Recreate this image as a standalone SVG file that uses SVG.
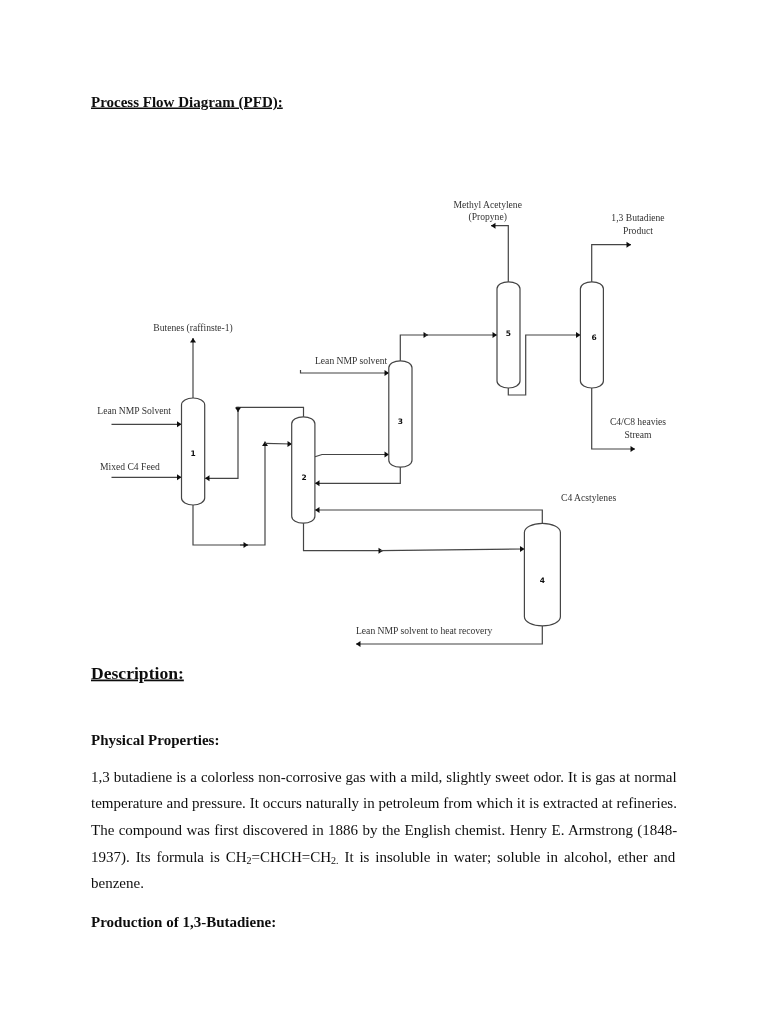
<svg xmlns="http://www.w3.org/2000/svg" width="768" height="1024" viewBox="0 0 768 1024">
<style>
text{font-family:"Liberation Serif","Times New Roman",serif;fill:#111}
.lbl{font-size:9.6px;fill:#333}
.mid{text-anchor:middle}
.num{font-family:"DejaVu Sans",sans-serif;font-size:7.500px;font-weight:bold;text-anchor:middle;fill:#111}
.v{fill:#fff;stroke:#444;stroke-width:1.2}
.c{fill:none;stroke:#444;stroke-width:1.2}
.a{marker-end:url(#arr)}
.body{font-size:15px}
.h{font-size:15px;font-weight:bold}
</style>
<defs>
<marker id="arr" markerUnits="userSpaceOnUse" markerWidth="7" markerHeight="7" refX="5" refY="3.500" orient="auto"><path d="M.5 .5L5 3.500L.5 6.500Z" fill="#111"/></marker>
<filter id="soft" x="0" y="0" width="100%" height="100%"><feGaussianBlur stdDeviation="0.5"/></filter>
</defs>
<rect width="768" height="1024" fill="#fff"/>
<g filter="url(#soft)">
<text id="title" class="h" x="91" y="106.500" text-decoration="underline">Process Flow Diagram (PFD):</text>
<g id="connectors">
<path class="c a" d="M193 398V338"/>
<path class="c a" d="M111.500 424.300H181.500"/>
<path class="c a" d="M111.500 477.300H181.500"/>
<path class="c a" d="M303.500 417V407.300H238V478.300H205"/>
<path class="c a" d="M236 407.300H238V412"/>
<path class="c a" d="M193 505V545H265V441.500"/>
<path class="c a" d="M265 443.300L292 444"/>
<path class="c a" d="M240 545H248"/>
<path class="c a" d="M303.500 523V550.700H383"/>
<path class="c a" d="M380 550.700L524.500 549"/>
<path class="c a" d="M315 456.700L322 454.500H389"/>
<path class="c a" d="M400.300 467V483.300H315"/>
<path class="c a" d="M542.300 523.500V510H315"/>
<path class="c a" d="M542.300 626V644H356"/>
<path class="c a" d="M300.500 370V373H389"/>
<path class="c a" d="M400.300 361V335H428"/>
<path class="c a" d="M425 335H497"/>
<path class="c a" d="M508.300 282V225.700H491"/>
<path class="c a" d="M508.300 388V395H525.700V335H580.500"/>
<path class="c a" d="M591.700 282V244.700H631"/>
<path class="c a" d="M591.700 388V449H635"/>
</g>
<g id="node1"><rect class="v" x="181.500" y="398" width="23.200" height="107" rx="11.600" ry="7"/><text class="num" x="193" y="456">1</text></g>
<g id="node2"><rect class="v" x="291.700" y="416.800" width="23.200" height="106.400" rx="11.600" ry="7"/><text class="num" x="304" y="480">2</text></g>
<g id="node3"><rect class="v" x="388.800" y="360.800" width="23.200" height="106.400" rx="11.600" ry="7"/><text class="num" x="400.300" y="424">3</text></g>
<g id="node4"><rect class="v" x="524.400" y="523.400" width="36" height="102.400" rx="18" ry="9"/><text class="num" x="542.300" y="582.500">4</text></g>
<g id="node5"><rect class="v" x="497" y="281.800" width="23" height="106.200" rx="11.500" ry="7"/><text class="num" x="508.300" y="336">5</text></g>
<g id="node6"><rect class="v" x="580.400" y="281.800" width="23" height="106.200" rx="11.500" ry="7"/><text class="num" x="594" y="340">6</text></g>
<text class="lbl" x="153.300" y="331">Butenes (raffinste-1)</text>
<text class="lbl" x="97.300" y="414">Lean NMP Solvent</text>
<text class="lbl" x="100" y="470">Mixed C4 Feed</text>
<text class="lbl" x="315" y="363.700">Lean NMP solvent</text>
<text class="lbl mid" x="487.700" y="208">Methyl Acetylene</text>
<text class="lbl mid" x="487.700" y="220">(Propyne)</text>
<text class="lbl mid" x="638" y="221">1,3 Butadiene</text>
<text class="lbl mid" x="638" y="233.600">Product</text>
<text class="lbl mid" x="638" y="425">C4/C8 heavies</text>
<text class="lbl mid" x="638" y="438">Stream</text>
<text class="lbl" x="561" y="500.700">C4 Acstylenes</text>
<text class="lbl" x="356" y="634">Lean NMP solvent to heat recovery</text>
<text x="91" y="678.500" font-size="17.600" font-weight="bold" text-decoration="underline">Description:</text>
<text class="h" x="91" y="745">Physical Properties:</text>
<text class="body" x="91" y="781.500" word-spacing="0.29">1,3 butadiene is a colorless non-corrosive gas with a mild, slightly sweet odor. It is gas at normal</text>
<text class="body" x="91" y="808" word-spacing="0.14">temperature and pressure. It occurs naturally in petroleum from which it is extracted at refineries.</text>
<text class="body" x="91" y="835" word-spacing="0.64">The compound was first discovered in 1886 by the English chemist. Henry E. Armstrong (1848-</text>
<text class="body" x="91" y="862" word-spacing="2.13">1937). Its formula is CH<tspan font-size="10" dy="2">2</tspan><tspan dy="-2">=CHCH=CH</tspan><tspan font-size="10" dy="2">2.</tspan><tspan dy="-2"> It is insoluble in water; soluble in alcohol, ether and</tspan></text>
<text class="body" x="91" y="888">benzene.</text>
<text class="h" x="91" y="927">Production of 1,3-Butadiene:</text>
</g>
</svg>
